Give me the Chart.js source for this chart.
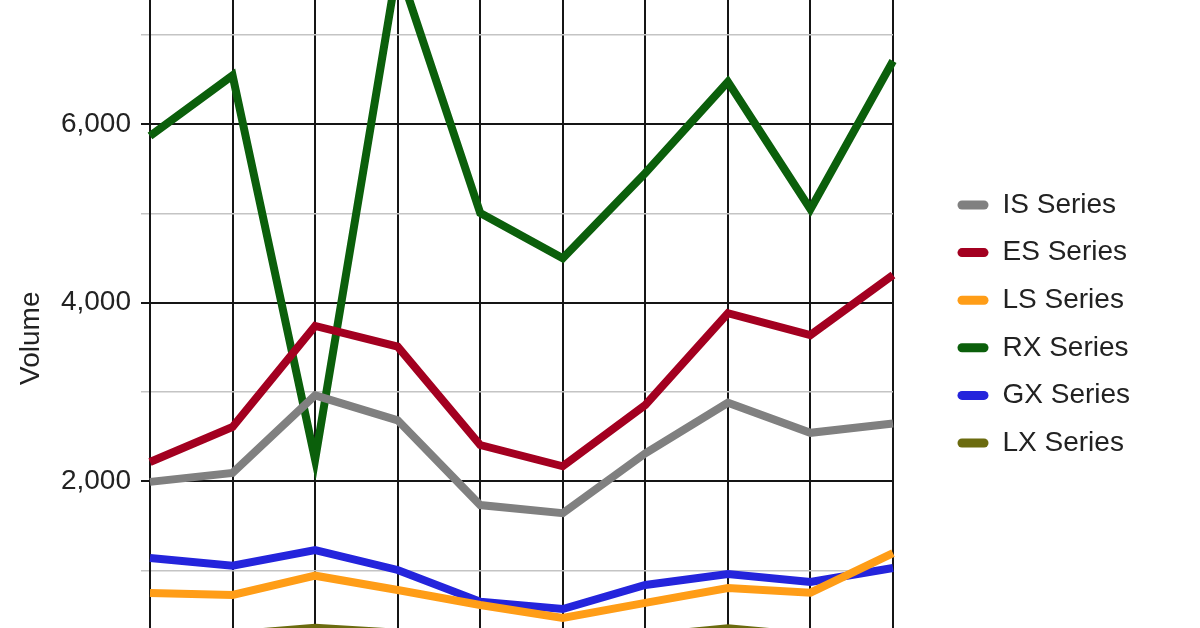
<!DOCTYPE html>
<html>
<head>
<meta charset="utf-8">
<script src="https://cdn.jsdelivr.net/npm/chart.js@4.4.1/dist/chart.umd.min.js"></script>
<style>
  html, body { margin: 0; padding: 0; width: 1200px; height: 628px; overflow: hidden; background: #ffffff; }
  #chart { position: absolute; left: -150px; top: -110px; }
</style>
</head>
<body>
<canvas id="chart" width="1400" height="868"></canvas>
<script>
// ---- data ----
const categories = ['1', '2', '3', '4', '5', '6', '7', '8', '9', '10'];
const seriesNames = ['IS Series', 'ES Series', 'LS Series', 'RX Series', 'GX Series', 'LX Series'];
const isSeries = [1990, 2090, 2960, 2680, 1730, 1640, 2310, 2877, 2540, 2645];
const esSeries = [2213, 2605, 3737, 3505, 2403, 2165, 2852, 3880, 3635, 4308];
const lsSeries = [745, 723, 939, 779, 611, 465, 635, 801, 749, 1193];
const rxSeries = [5866, 6544, 2240, 7780, 5003, 4495, 5451, 6473, 5045, 6706];
const gxSeries = [1137, 1051, 1227, 1003, 648, 566, 835, 958, 868, 1025];
const lxSeries = [220, 280, 355, 300, 190, 150, 260, 350, 265, 280];
const yTickValues = [0, 1000, 2000, 3000, 4000, 5000, 6000, 7000, 8000];
const yLabeledTicks = [2000, 4000, 6000, 8000];
const yAxisTitle = 'Volume';

// ---- styles / layout constants ----
const seriesColors = ['#808080', '#a30020', '#ff9d17', '#0b5f0b', '#2424dc', '#6b6b0f'];
const FONT = "'Liberation Sans', Arial, Helvetica, sans-serif";
const FONT_SIZE = 28;
const CANVAS_W = 1400;
const CANVAS_OFFSET_X = 150;      // canvas starts 150px left of the page
const LEGEND_PAD = 19.6;
const LEGEND_BOX_W = 31;
const LEGEND_LEFT_PAGE = 937.9;   // left edge of the legend block on the page
const PLOT_RIGHT_PAGE = 893;

const seriesValues = [isSeries, esSeries, lsSeries, rxSeries, gxSeries, lxSeries];

// measure the legend so its left edge lands where wanted
const mctx = document.createElement('canvas').getContext('2d');
mctx.font = 'normal ' + FONT_SIZE + 'px ' + FONT;
const maxTextW = Math.max(...seriesNames.map(n => mctx.measureText(n).width));
const legendNaturalW = LEGEND_PAD + LEGEND_BOX_W + FONT_SIZE / 2 + maxTextW + 10;
const padRight = CANVAS_W - (LEGEND_LEFT_PAGE + CANVAS_OFFSET_X + legendNaturalW);

const datasets = seriesNames.map((name, i) => ({
  label: name,
  data: seriesValues[i],
  borderColor: seriesColors[i],
  backgroundColor: seriesColors[i],
  borderWidth: 8,
  pointRadius: 0,
  pointHoverRadius: 0,
  tension: 0,
  borderJoinStyle: 'miter',
  borderCapStyle: 'butt',
  fill: false
}));

const isMajor = (v) => v % 2000 === 0;

new Chart(document.getElementById('chart').getContext('2d'), {
  type: 'line',
  data: { labels: categories, datasets: datasets },
  options: {
    responsive: false,
    animation: false,
    devicePixelRatio: 1,
    layout: { padding: { left: 0, right: padRight, top: 0, bottom: 0 } },
    plugins: {
      tooltip: { enabled: false },
      legend: {
        position: 'right',
        align: 'center',
        labels: {
          boxWidth: LEGEND_BOX_W,
          boxHeight: 9,
          padding: LEGEND_PAD,
          color: '#222222',
          font: { family: FONT, size: FONT_SIZE },
          generateLabels(chart) {
            const items = Chart.defaults.plugins.legend.labels.generateLabels(chart);
            items.forEach(it => { it.lineWidth = 0; it.borderRadius = 4.5; });
            return items;
          }
        }
      }
    },
    scales: {
      x: {
        type: 'category',
        offset: false,
        grid: { color: '#151515', lineWidth: 2, drawTicks: false },
        border: { display: false },
        ticks: { display: false },
        afterFit(s) { s.height = 27.1; }
      },
      xTop: {
        type: 'linear',
        axis: 'x',
        position: 'top',
        grid: { display: false },
        border: { display: false },
        ticks: { display: false },
        afterFit(s) { s.height = 55.5; }
      },
      y: {
        min: -800,
        max: 8000,
        afterBuildTicks(s) { s.ticks = yTickValues.map(v => ({ value: v })); },
        ticks: {
          padding: 10,
          color: '#222222',
          font: { family: FONT, size: FONT_SIZE },
          callback: (v) => yLabeledTicks.includes(v) ? v.toLocaleString('en-US') : ''
        },
        grid: {
          tickLength: 9,
          color: (c) => (c.tick && isMajor(c.tick.value)) ? '#151515' : '#c4c4c4',
          lineWidth: (c) => (c.tick && isMajor(c.tick.value)) ? 2 : 1.5
        },
        border: { color: '#151515', width: 2 },
        title: {
          display: true,
          text: yAxisTitle,
          color: '#222222',
          font: { family: FONT, size: FONT_SIZE },
          padding: { top: 164.7, bottom: 0 }
        },
        afterFit(s) { s.width = 300; }
      },
      yRight: {
        type: 'linear',
        axis: 'y',
        position: 'right',
        grid: { display: false },
        border: { display: false },
        ticks: { display: false },
        afterFit(s) { s.width = LEGEND_LEFT_PAGE - PLOT_RIGHT_PAGE; }
      }
    }
  }
});
</script>
</body>
</html>
